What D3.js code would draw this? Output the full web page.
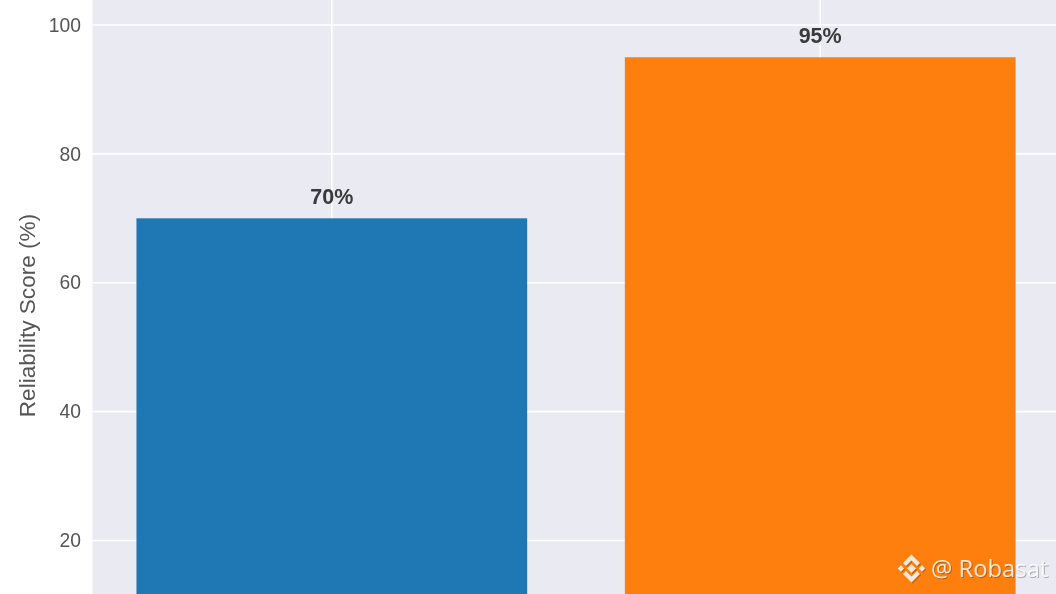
<!DOCTYPE html>
<html>
<head>
<meta charset="utf-8">
<script src="https://cdn.jsdelivr.net/npm/d3@7"></script>
<style>
  html, body { margin: 0; padding: 0; background: #fff; overflow: hidden; }
  text { font-family: "Liberation Sans", sans-serif; }
  #wrapper svg { display: block; filter: blur(0.45px); }
  .watermark { filter: drop-shadow(1px 1px 0.6px rgba(0, 0, 0, 0.3)); }
</style>
</head>
<body>
<div id="wrapper"></div>
<script>
// the x labels are cropped out of the reference, so these names are never drawn
const categories = ['first', 'second'];
const scores = [70, 95];
const barColors = ['#1f77b4', '#ff7f0e'];
const yTicks = [20, 40, 60, 80, 100];

function drawBarChart() {
  const dimensions = { width: 1056, height: 594 };

  const wrapper = d3.select('#wrapper')
    .append('svg')
      .attr('width', dimensions.width)
      .attr('height', dimensions.height);

  // scale runs past the window, the source image is a crop of a bigger chart
  const xScale = d3.scaleBand()
    .domain(categories)
    .range([92.5, 1059.5])
    .paddingInner(0.2)
    .paddingOuter(0.09);

  const yScale = d3.scaleLinear()
    .domain([20, 100])
    .range([540.5, 25]);

  wrapper.append('rect')
      .attr('x', 92.5)
      .attr('y', 0)
      .attr('width', dimensions.width - 92.5)
      .attr('height', dimensions.height)
      .attr('fill', '#eaeaf2');

  const yAxis = wrapper.append('g')
      .attr('class', 'y-axis')
      .attr('transform', 'translate(92.5, 0)')
      .call(d3.axisLeft(yScale).tickValues(yTicks).tickSize(0).tickPadding(11.5));

  yAxis.select('.domain').remove();
  yAxis.selectAll('text')
      .attr('fill', '#555')
      .style('font-size', '19.3px');

  wrapper.append('g')
      .attr('class', 'grid-y')
    .selectAll('line')
    .data(yTicks)
    .join('line')
      .attr('x1', 92.5)
      .attr('x2', dimensions.width)
      .attr('y1', d => yScale(d))
      .attr('y2', d => yScale(d))
      .attr('stroke', '#fff')
      .attr('stroke-width', 1.6);

  wrapper.append('g')
      .attr('class', 'grid-x')
    .selectAll('line')
    .data(categories)
    .join('line')
      .attr('x1', d => xScale(d) + xScale.bandwidth() / 2)
      .attr('x2', d => xScale(d) + xScale.bandwidth() / 2)
      .attr('y1', 0)
      .attr('y2', dimensions.height)
      .attr('stroke', '#fff')
      .attr('stroke-width', 1.6);

  wrapper.append('g')
    .selectAll('rect')
    .data(categories)
    .join('rect')
      .attr('x', d => xScale(d))
      .attr('y', (d, i) => yScale(scores[i]))
      .attr('width', xScale.bandwidth())
      .attr('height', (d, i) => dimensions.height - yScale(scores[i]))
      .attr('fill', (d, i) => barColors[i]);

  wrapper.append('g')
    .selectAll('text')
    .data(categories)
    .join('text')
      .attr('x', d => xScale(d) + xScale.bandwidth() / 2)
      .attr('y', (d, i) => yScale(scores[i]) - 14.5)
      .attr('text-anchor', 'middle')
      .attr('fill', '#3a3a3a')
      .style('font-size', '21.5px')
      .style('font-weight', 'bold')
      .text((d, i) => `${scores[i]}%`);

  wrapper.append('text')
      .attr('transform', 'translate(35, 315.5) rotate(-90)')
      .attr('text-anchor', 'middle')
      .attr('fill', '#555')
      .style('font-size', '22.6px')
      .text('Reliability Score (%)');

  // watermark
  const mark = wrapper.append('g')
      .attr('class', 'watermark')
      .attr('transform', 'translate(911.5, 568.5)')
      .attr('fill', '#fff')
      .attr('fill-opacity', 0.85);
  const square = (cx, cy, r) =>
    `M${cx},${cy - r}L${cx + r},${cy}L${cx},${cy + r}L${cx - r},${cy}Z`;
  mark.append('path').attr('d', square(0, 0, 4.5));
  mark.append('path').attr('d', square(-10.5, 0, 3.2));
  mark.append('path').attr('d', square(10.5, 0, 3.2));
  mark.append('path')
      .attr('d', 'M0,-14L8.5,-5.5L5.5,-2.5L0,-8L-5.5,-2.5L-8.5,-5.5Z');
  mark.append('path')
      .attr('d', 'M0,14L8.5,5.5L5.5,2.5L0,8L-5.5,2.5L-8.5,5.5Z');

  wrapper.append('text')
      .attr('class', 'watermark')
      .attr('x', 931)
      .attr('y', 577)
      .attr('fill', '#fff')
      .attr('fill-opacity', 0.85)
      .style('font-family', '"Open Sans", sans-serif')
      .style('font-size', '23.8px')
      .text('@ Robasat');
}

drawBarChart();
</script>
</body>
</html>
